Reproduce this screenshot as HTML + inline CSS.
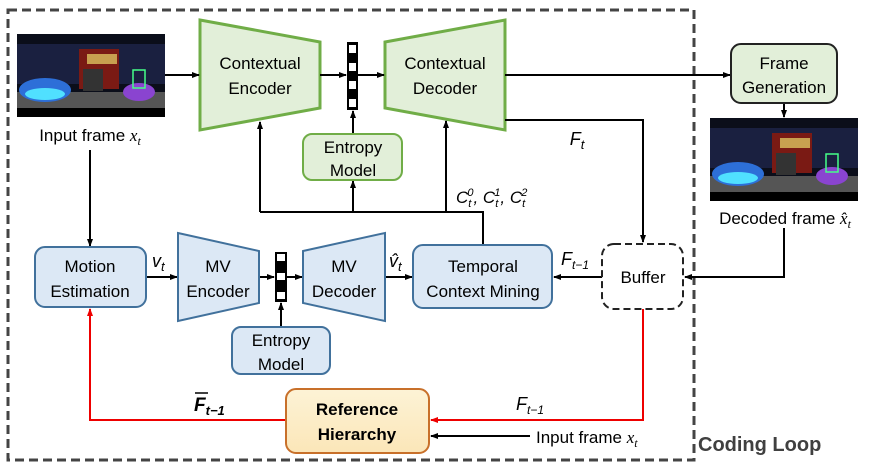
<!DOCTYPE html>
<html><head><style>body{margin:0;background:#fff}svg{display:block}text{font-family:"Liberation Sans",sans-serif;}</style></head><body>
<svg width="873" height="469" viewBox="0 0 873 469" xmlns="http://www.w3.org/2000/svg">
<defs>
<marker id="a" markerWidth="8" markerHeight="8" refX="7" refY="4" orient="auto" markerUnits="userSpaceOnUse"><path d="M0,1 L8,4 L0,7 z" fill="#000"/></marker>
<marker id="r" markerWidth="8" markerHeight="8" refX="7" refY="4" orient="auto" markerUnits="userSpaceOnUse"><path d="M0,1 L8,4 L0,7 z" fill="#e00"/></marker>
<linearGradient id="og" x1="0" y1="0" x2="0" y2="1"><stop offset="0" stop-color="#fdf3d6"/><stop offset="1" stop-color="#fbe6b8"/></linearGradient>
<g id="img">
<rect x="0" y="0" width="148" height="83" fill="#0b0e1a"/>
<rect x="0" y="10" width="148" height="40" fill="#1a2040"/>
<rect x="0" y="58" width="148" height="18" fill="#555"/>
<rect x="0" y="74" width="148" height="9" fill="#000"/>
<rect x="62" y="15" width="40" height="40" fill="#7a1a14"/>
<rect x="70" y="20" width="30" height="10" fill="#c8a050"/>
<rect x="66" y="35" width="20" height="22" fill="#333"/>
<ellipse cx="28" cy="56" rx="26" ry="12" fill="#2d6fd8"/>
<ellipse cx="28" cy="60" rx="20" ry="6" fill="#50e0ff"/>
<ellipse cx="122" cy="58" rx="16" ry="9" fill="#8a44d0"/>
<rect x="116" y="36" width="12" height="18" fill="none" stroke="#4f8" stroke-width="1.5"/>
</g>
</defs>

<!-- coding loop -->
<rect x="8" y="10" width="686" height="450" fill="none" stroke="#444" stroke-width="3" stroke-dasharray="9,5"/>
<text x="698" y="451" font-size="20" font-weight="bold" fill="#404040">Coding Loop</text>

<!-- images -->
<use href="#img" x="17" y="34"/>
<text x="90" y="141" font-size="17" text-anchor="middle">Input frame <tspan font-family="Liberation Serif" font-style="italic">x</tspan><tspan font-family="Liberation Serif" font-style="italic" font-size="12" dy="4">t</tspan></text>
<use href="#img" x="710" y="118"/>
<text x="785" y="224" font-size="17" text-anchor="middle">Decoded frame <tspan font-family="Liberation Serif" font-style="italic">x̂</tspan><tspan font-family="Liberation Serif" font-style="italic" font-size="12" dy="4">t</tspan></text>

<!-- contextual enc/dec -->
<polygon points="200,20 320,42 320,108 200,130" fill="#e2efd9" stroke="#70ad47" stroke-width="3"/>
<text x="260" y="69" font-size="17" text-anchor="middle">Contextual</text>
<text x="260" y="94" font-size="17" text-anchor="middle">Encoder</text>
<polygon points="385,42 505,20 505,130 385,108" fill="#e2efd9" stroke="#70ad47" stroke-width="3"/>
<text x="445" y="69" font-size="17" text-anchor="middle">Contextual</text>
<text x="445" y="94" font-size="17" text-anchor="middle">Decoder</text>
<rect x="347" y="42" width="11" height="68" fill="#000"/>
<rect x="349" y="45" width="7" height="8" fill="#fff"/><rect x="349" y="63" width="7" height="8" fill="#fff"/><rect x="349" y="81" width="7" height="8" fill="#fff"/><rect x="349" y="99" width="7" height="8" fill="#fff"/>
<g stroke="#000" stroke-width="2" fill="none">
<line x1="165" y1="75" x2="199" y2="75" marker-end="url(#a)"/>
<line x1="320" y1="75" x2="346" y2="75" marker-end="url(#a)"/>
<line x1="358" y1="75" x2="384" y2="75" marker-end="url(#a)"/>
<line x1="505" y1="75" x2="730" y2="75" marker-end="url(#a)"/>
<line x1="353" y1="134" x2="353" y2="111" marker-end="url(#a)"/>
<polyline points="260,212 260,122" marker-end="url(#a)"/>
<polyline points="260,212 483,212 483,245"/>
<line x1="353" y1="212" x2="353" y2="181" marker-end="url(#a)"/>
<line x1="446" y1="212" x2="446" y2="121" marker-end="url(#a)"/>
<polyline points="505,120 643,120 643,242" marker-end="url(#a)"/>
<line x1="784" y1="103" x2="784" y2="117" marker-end="url(#a)"/>
<polyline points="784,228 784,277 685,277" marker-end="url(#a)"/>
<line x1="90" y1="150" x2="90" y2="246" marker-end="url(#a)"/>
<line x1="146" y1="277" x2="177" y2="277" marker-end="url(#a)"/>
<line x1="259" y1="277" x2="274" y2="277" marker-end="url(#a)"/>
<line x1="287" y1="277" x2="302" y2="277" marker-end="url(#a)"/>
<line x1="385" y1="277" x2="412" y2="277" marker-end="url(#a)"/>
<line x1="281" y1="327" x2="281" y2="303" marker-end="url(#a)"/>
<line x1="602" y1="277" x2="554" y2="277" marker-end="url(#a)"/>
<line x1="530" y1="436" x2="431" y2="436" marker-end="url(#a)"/>
</g>
<g stroke="#e00" stroke-width="2" fill="none">
<polyline points="643,309 643,420 431,420" marker-end="url(#r)"/>
<polyline points="286,420 90,420 90,309" marker-end="url(#r)"/>
</g>

<!-- frame gen -->
<rect x="731" y="44" width="106" height="59" rx="10" fill="#e2efd9" stroke="#222" stroke-width="2"/>
<text x="784" y="69" font-size="17" text-anchor="middle">Frame</text>
<text x="784" y="93" font-size="17" text-anchor="middle">Generation</text>
<!-- entropy green -->
<rect x="303" y="134" width="99" height="46" rx="9" fill="#e2efd9" stroke="#70ad47" stroke-width="2"/>
<text x="353" y="153" font-size="17" text-anchor="middle">Entropy</text>
<text x="353" y="176" font-size="17" text-anchor="middle">Model</text>
<text x="577" y="145" font-size="18" font-family="Liberation Serif" font-style="italic" text-anchor="middle">F<tspan font-size="13" dy="4">t</tspan></text>
<text x="456" y="203" font-size="17" font-family="Liberation Serif" font-style="italic">C<tspan font-size="11" dy="4">t</tspan><tspan font-size="11" dx="-4" dy="-11">0</tspan><tspan dy="7">, C</tspan><tspan font-size="11" dy="4">t</tspan><tspan font-size="11" dx="-4" dy="-11">1</tspan><tspan dy="7">, C</tspan><tspan font-size="11" dy="4">t</tspan><tspan font-size="11" dx="-4" dy="-11">2</tspan></text>

<!-- blue row -->
<rect x="35" y="247" width="111" height="60" rx="10" fill="#dce8f5" stroke="#41719c" stroke-width="2"/>
<text x="90" y="272" font-size="17" text-anchor="middle">Motion</text>
<text x="90" y="297" font-size="17" text-anchor="middle">Estimation</text>
<text x="152" y="267" font-size="18" font-family="Liberation Serif" font-style="italic">v<tspan font-size="13" dy="4">t</tspan></text>
<polygon points="178,233 259,251 259,303 178,321" fill="#dce8f5" stroke="#41719c" stroke-width="2"/>
<text x="218" y="272" font-size="17" text-anchor="middle">MV</text>
<text x="218" y="297" font-size="17" text-anchor="middle">Encoder</text>
<rect x="275" y="252" width="12" height="50" fill="#000"/>
<rect x="277" y="254" width="8" height="7" fill="#fff"/><rect x="277" y="273" width="8" height="7" fill="#fff"/><rect x="277" y="292" width="8" height="7" fill="#fff"/>
<polygon points="303,251 385,233 385,321 303,303" fill="#dce8f5" stroke="#41719c" stroke-width="2"/>
<text x="344" y="272" font-size="17" text-anchor="middle">MV</text>
<text x="344" y="297" font-size="17" text-anchor="middle">Decoder</text>
<text x="389" y="267" font-size="18" font-family="Liberation Serif" font-style="italic">v̂<tspan font-size="13" dy="4">t</tspan></text>
<rect x="413" y="245" width="139" height="63" rx="10" fill="#dce8f5" stroke="#41719c" stroke-width="2"/>
<text x="483" y="272" font-size="17" text-anchor="middle">Temporal</text>
<text x="483" y="297" font-size="17" text-anchor="middle">Context Mining</text>
<rect x="232" y="327" width="98" height="47" rx="9" fill="#dce8f5" stroke="#41719c" stroke-width="2"/>
<text x="281" y="346" font-size="17" text-anchor="middle">Entropy</text>
<text x="281" y="370" font-size="17" text-anchor="middle">Model</text>
<rect x="602" y="244" width="81" height="65" rx="12" fill="#fff" stroke="#222" stroke-width="2" stroke-dasharray="7,4"/>
<text x="643" y="283" font-size="17" text-anchor="middle">Buffer</text>
<text x="561" y="265" font-size="18" font-family="Liberation Serif" font-style="italic">F<tspan font-size="12" dy="4">t−1</tspan></text>

<!-- reference hierarchy -->
<rect x="286" y="389" width="143" height="64" rx="10" fill="url(#og)" stroke="#c8702a" stroke-width="2"/>
<text x="357" y="415" font-size="17" font-weight="bold" text-anchor="middle">Reference</text>
<text x="357" y="440" font-size="17" font-weight="bold" text-anchor="middle">Hierarchy</text>
<text x="194" y="411" font-size="19" font-weight="bold" font-family="Liberation Serif" font-style="italic">F<tspan font-size="13" dy="4">t−1</tspan></text>
<line x1="195" y1="393" x2="208" y2="393" stroke="#000" stroke-width="1.5"/>
<text x="516" y="410" font-size="18" font-family="Liberation Serif" font-style="italic">F<tspan font-size="12" dy="4">t−1</tspan></text>
<text x="536" y="443" font-size="17">Input frame <tspan font-family="Liberation Serif" font-style="italic">x</tspan><tspan font-family="Liberation Serif" font-style="italic" font-size="12" dy="4">t</tspan></text>
</svg>
</body></html>
